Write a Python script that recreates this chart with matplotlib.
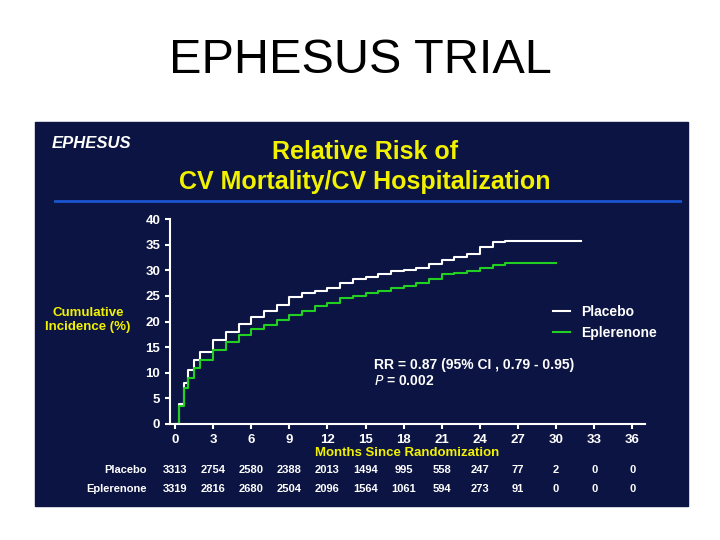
import matplotlib
matplotlib.use("Agg")
import matplotlib.pyplot as plt
from matplotlib.patches import Rectangle

plt.rcParams['font.family'] = ['Liberation Sans', 'DejaVu Sans']

months_p = [0, 0.3, 0.7, 1, 1.5, 2, 3, 4, 5, 6, 7, 8, 9, 10, 11, 12, 13, 14, 15, 16, 17, 18, 19, 20, 21, 22, 23, 24, 25, 26, 28, 30, 32]
placebo = [0, 4, 8, 10.5, 12.5, 14, 16.3, 18, 19.5, 20.8, 22, 23.3, 24.8, 25.5, 26, 26.5, 27.5, 28.3, 28.6, 29.3, 29.8, 30, 30.5, 31.2, 32, 32.6, 33.2, 34.5, 35.5, 35.7, 35.7, 35.7, 35.7]
months_e = [0, 0.3, 0.7, 1, 1.5, 2, 3, 4, 5, 6, 7, 8, 9, 10, 11, 12, 13, 14, 15, 16, 17, 18, 19, 20, 21, 22, 23, 24, 25, 26, 28, 30]
eplerenone = [0, 3.5, 7, 9, 11, 12.5, 14.5, 16, 17.3, 18.5, 19.3, 20.2, 21.2, 22, 23, 23.7, 24.5, 25, 25.5, 26, 26.5, 27, 27.6, 28.3, 29.2, 29.5, 29.8, 30.5, 31, 31.5, 31.5, 31.5]
xticks = list(range(0, 37, 3))
yticks = list(range(0, 41, 5))
risk_placebo = [3313, 2754, 2580, 2388, 2013, 1494, 995, 558, 247, 77, 2, 0, 0]
risk_epler = [3319, 2816, 2680, 2504, 2096, 1564, 1061, 594, 273, 91, 0, 0, 0]

navy = "#0b1442"
yellow = "#f2f200"
fig = plt.figure(figsize=(7.2, 5.4), dpi=100)
fig.patch.set_facecolor("white")
fig.text(0.5, 0.888, "EPHESUS TRIAL", ha="center", va="center", fontsize=35)
fig.patches.append(Rectangle((35/720, 1-506/540), 653/720, 384/540, transform=fig.transFigure, color=navy, zorder=-5))
fig.text(52/720, 1-143/540, "EPHESUS", color="white", fontsize=12, fontweight="bold", style="italic", va="center")
fig.text(365/720, 1-152/540, "Relative Risk of", color=yellow, fontsize=18, fontweight="bold", ha="center", va="center")
fig.text(365/720, 1-182/540, "CV Mortality/CV Hospitalization", color=yellow, fontsize=18, fontweight="bold", ha="center", va="center")
fig.add_artist(plt.Line2D([55/720, 680/720], [1-201/540]*2, color="#1a55d0", lw=2))

ax = fig.add_axes([170/720, 1-424/540, 475/720, 205/540])
ax.set_zorder(5)
ax.set_facecolor(navy)
ax.step(months_p, placebo, where="post", color="white", lw=1.5, label="Placebo")
ax.step(months_e, eplerenone, where="post", color="#22d022", lw=1.5, label="Eplerenone")
ax.set_xlim(-0.4, 37)
ax.set_ylim(0, 40)
ax.set_xticks(xticks)
ax.set_yticks(yticks)
for s in ["top", "right"]:
    ax.spines[s].set_visible(False)
for s in ["left", "bottom"]:
    ax.spines[s].set_color("white")
    ax.spines[s].set_linewidth(1.5)
ax.tick_params(colors="white", labelsize=9.5, width=1.5)
for t in ax.get_xticklabels() + ax.get_yticklabels():
    t.set_fontweight("bold")
ax.set_xlabel("Months Since Randomization", color=yellow, fontsize=9.5, fontweight="bold", labelpad=1)
fig.text(88/720, 1-320/540, "Cumulative\nIncidence (%)", color=yellow, fontsize=9.5, fontweight="bold", ha="center", va="center")
leg = ax.legend(loc="upper left", bbox_to_anchor=(0.78, 0.64), frameon=False, labelcolor="white", fontsize=10, handlelength=1.2)
for t in leg.get_texts():
    t.set_fontweight("bold")
ax.text(0.43, 0.27, "RR = 0.87 (95% CI , 0.79 - 0.95)", transform=ax.transAxes, color="white", fontsize=10, fontweight="bold")
ax.text(0.43, 0.19, "$\\it{P}$ = 0.002", transform=ax.transAxes, color="white", fontsize=10, fontweight="bold")

for row, lab, vals in [(470, "Placebo", risk_placebo), (489, "Eplerenone", risk_epler)]:
    ax.text(-2.2, -(row - 424) / 205, lab, transform=ax.get_xaxis_transform(), color="white", fontsize=8,
            fontweight="bold", ha="right", va="center", clip_on=False)
    for m, v in zip(xticks, vals):
        ax.text(m, -(row - 424) / 205, str(v), transform=ax.get_xaxis_transform(), color="white", fontsize=8,
                fontweight="bold", ha="center", va="center", clip_on=False)
fig.savefig("out.png", dpi=100, facecolor=fig.get_facecolor())
